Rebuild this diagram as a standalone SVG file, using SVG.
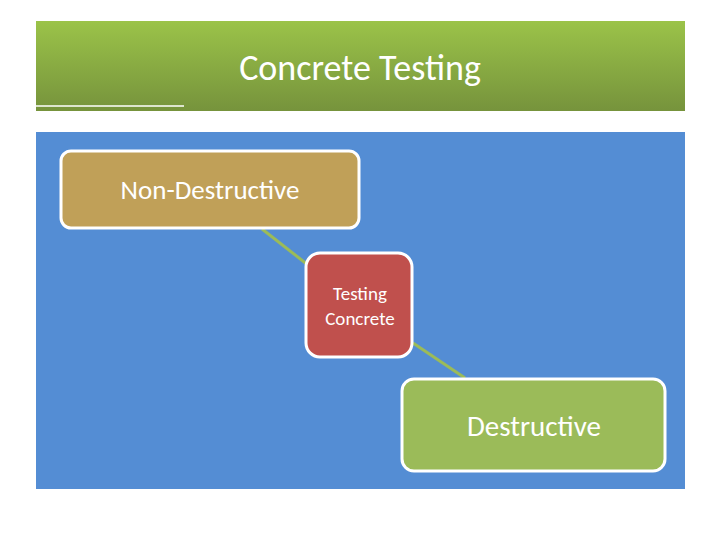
<svg xmlns="http://www.w3.org/2000/svg" width="720" height="540" viewBox="0 0 720 540">
<defs>
<linearGradient id="tg" x1="0" y1="0" x2="0" y2="1"><stop offset="0" stop-color="#9bc349"/><stop offset="1" stop-color="#76933c"/></linearGradient>
<style>
.n{stroke:#fff;stroke-width:3}
.t{font-family:Calibri,"Liberation Sans",sans-serif;fill:#fff;text-anchor:middle}
.c{stroke:#9bbb59;stroke-width:3;fill:none}
</style>
</defs>
<rect width="720" height="540" fill="#fff"/>
<rect x="36" y="21" width="649" height="90" fill="url(#tg)"/>
<line x1="36" y1="106" x2="184" y2="106" stroke="#fff" stroke-width="1.5"/>
<text class="t" x="360" y="80" font-size="36">Concrete Testing</text>
<rect x="36" y="132" width="649" height="357" fill="#548dd4"/>
<g id="connectors">
<line class="c" x1="262" y1="229" x2="308" y2="265"/>
<line class="c" x1="413" y1="343" x2="465" y2="378"/>
</g>
<g id="non-destructive">
<rect class="n" x="61" y="151" width="298" height="77" rx="10" fill="#c0a058"/>
<text class="t" x="210" y="199" font-size="27">Non-Destructive</text>
</g>
<g id="testing-concrete">
<rect class="n" x="306" y="253" width="106" height="104" rx="14" fill="#c0504d"/>
<text class="t" x="360" y="300" font-size="19">Testing</text>
<text class="t" x="360" y="325" font-size="19">Concrete</text>
</g>
<g id="destructive">
<rect class="n" x="402" y="379" width="263" height="92" rx="12" fill="#9bbb59"/>
<text class="t" x="534" y="436" font-size="29">Destructive</text>
</g>
</svg>
